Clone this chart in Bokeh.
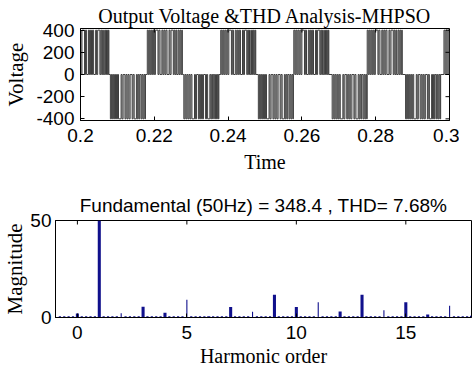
import numpy as np
from bokeh.plotting import figure
from bokeh.models import FixedTicker, Range1d
from bokeh.embed import file_html
from bokeh.resources import INLINE

# ---------------- data ----------------
title_top = "Output Voltage &THD Analysis-MHPSO"
title_bottom = "Fundamental (50Hz) = 348.4 , THD= 7.68%"

time_ticks = [0.2, 0.22, 0.24, 0.26, 0.28, 0.3]
time_tick_labels = ["0.2", "0.22", "0.24", "0.26", "0.28", "0.3"]
volt_ticks = [-400, -200, 0, 200, 400]
volt_tick_labels = ["-400", "-200", "0", "200", "400"]
dc_level = 400  # pulse amplitude (V)

# start time of each switching half-cycle block and its polarity
half_cycle_start = [0.1982, 0.2081, 0.2181, 0.2280, 0.2380, 0.2482,
                    0.2578, 0.2682, 0.2777, 0.2881, 0.2985]
half_cycle_sign = [1, -1, 1, -1, 1, -1, 1, -1, 1, -1, 1]
# switching instants inside a half-cycle block (ms from block start)
pulse_switch_ms = [0.00, 0.28, 0.55, 0.82, 1.10, 1.38, 1.65, 1.92, 2.20,
                   2.90, 3.15, 3.45,
                   3.95, 4.22, 4.50, 4.78, 5.05, 5.35,
                   5.90, 6.15, 6.45,
                   7.05, 7.30, 7.55, 7.80, 8.00,
                   8.35, 8.60, 8.85, 9.10, 9.35, 9.50]

harmonic_order = list(range(0, 19))
harmonic_mag = [2.0, 100.0, 2.2, 5.6, 2.5, 9.2, 0.6, 5.4, 3.0, 11.7,
                5.4, 7.8, 3.1, 11.7, 3.8, 7.8, 1.6, 6.1, 0.9]
interharmonic_level = 0.6
harm_ticks = [0, 5, 10, 15]
mag_ticks = [0, 50]

# ---------------- build waveform ----------------
t = [0.19]
v = [0.0]
for t0, s in zip(half_cycle_start, half_cycle_sign):
    state = 0
    for ms in pulse_switch_ms:
        tt = t0 + ms / 1000.0
        t += [tt, tt]
        v += [state * s * dc_level, (1 - state) * s * dc_level]
        state = 1 - state
t.append(0.31)
v.append(0.0)

SERIF = "Liberation Serif"
SANS = "Liberation Sans"
TICK_PX = 4


def style_axis(ax):
    ax.major_tick_in = TICK_PX
    ax.major_tick_out = 0
    ax.minor_tick_line_color = None
    ax.axis_line_color = "black"
    ax.major_tick_line_color = "black"
    ax.major_label_text_font = SANS
    ax.major_label_text_font_size = "19px"
    ax.major_label_text_color = "black"
    ax.axis_label_text_font = SERIF
    ax.axis_label_text_font_style = "normal"
    ax.axis_label_text_color = "black"


def mirror_ticks(p, xr, yr, fw, fh, xticks, yticks, top=True, right=True):
    dx = TICK_PX * (xr.end - xr.start) / fw
    dy = TICK_PX * (yr.end - yr.start) / fh
    if top:
        p.segment(x0=xticks, x1=xticks, y0=[yr.end] * len(xticks),
                  y1=[yr.end - dy] * len(xticks), line_color="black", line_width=1)
    if right:
        p.segment(x0=[xr.end] * len(yticks), x1=[xr.end - dx] * len(yticks),
                  y0=yticks, y1=yticks, line_color="black", line_width=1)


# ---------------- top figure ----------------
xr1 = Range1d(0.2, 0.3)
yr1 = Range1d(-415, 415)
FW1, FH1 = 369, 92
p1 = figure(frame_width=FW1, frame_height=FH1, x_range=xr1, y_range=yr1,
            output_backend="svg", toolbar_location=None,
            min_border_left=80, min_border_right=10,
            min_border_top=27, min_border_bottom=61)
p1.title.text = title_top
p1.title.text_font = SERIF
p1.title.text_font_size = "20px"
p1.title.text_font_style = "normal"
p1.title.text_color = "black"
p1.title.align = "center"
p1.title.standoff = 4
p1.line(t, v, line_color="#3c3c3c", line_width=1)
p1.xgrid.visible = False
p1.ygrid.visible = False
p1.outline_line_color = "black"
p1.xaxis.ticker = FixedTicker(ticks=time_ticks)
p1.xaxis.major_label_overrides = dict(zip(time_ticks, time_tick_labels))
p1.yaxis.ticker = FixedTicker(ticks=volt_ticks)
p1.yaxis.major_label_overrides = dict(zip(volt_ticks, volt_tick_labels))
p1.xaxis.axis_label = "Time"
p1.yaxis.axis_label = "Voltage"
style_axis(p1.xaxis[0])
style_axis(p1.yaxis[0])
p1.xaxis.axis_label_text_font_size = "20px"
p1.yaxis.axis_label_text_font_size = "21px"
p1.xaxis.major_label_standoff = 8
p1.xaxis.axis_label_standoff = 6
p1.yaxis.major_label_standoff = 6
p1.yaxis.axis_label_standoff = 5
mirror_ticks(p1, xr1, yr1, FW1, FH1, time_ticks, volt_ticks)

# ---------------- bottom figure ----------------
inter_x = [k / 5 for k in range(-5, 91) if k % 5 != 0]
inter_h = [interharmonic_level] * len(inter_x)
bar_w = [0.05 if h % 3 == 2 else 0.14 for h in harmonic_order]

xr2 = Range1d(-1, 18)
yr2 = Range1d(0, 50)
FW2, FH2 = 416, 97
p2 = figure(frame_width=FW2, frame_height=FH2, x_range=xr2, y_range=yr2,
            output_backend="svg", toolbar_location=None,
            min_border_left=55, min_border_right=2,
            min_border_top=39, min_border_bottom=51)
p2.title.text = title_bottom
p2.title.text_font = SANS
p2.title.text_font_size = "19px"
p2.title.text_font_style = "normal"
p2.title.text_color = "black"
p2.title.align = "center"
p2.title.standoff = 9
p2.vbar(x=inter_x, top=inter_h, width=0.1, bottom=0,
        fill_color="#10108c", line_color=None)
p2.vbar(x=harmonic_order, top=harmonic_mag, width=bar_w, bottom=0,
        fill_color="#10108c", line_color=None)
p2.xgrid.visible = False
p2.ygrid.visible = False
p2.outline_line_color = "black"
p2.xaxis.ticker = FixedTicker(ticks=harm_ticks)
p2.yaxis.ticker = FixedTicker(ticks=mag_ticks)
p2.xaxis.axis_label = "Harmonic order"
p2.yaxis.axis_label = "Magnitude"
style_axis(p2.xaxis[0])
style_axis(p2.yaxis[0])
p2.xaxis.axis_label_text_font_size = "20px"
p2.yaxis.axis_label_text_font_size = "21px"
p2.xaxis.major_label_standoff = 8
p2.xaxis.axis_label_standoff = 3
p2.yaxis.major_label_standoff = 4
p2.yaxis.axis_label_standoff = 0
mirror_ticks(p2, xr2, yr2, FW2, FH2, harm_ticks, mag_ticks, right=False)

open("out.html", "w").write(file_html([p1, p2], INLINE))
